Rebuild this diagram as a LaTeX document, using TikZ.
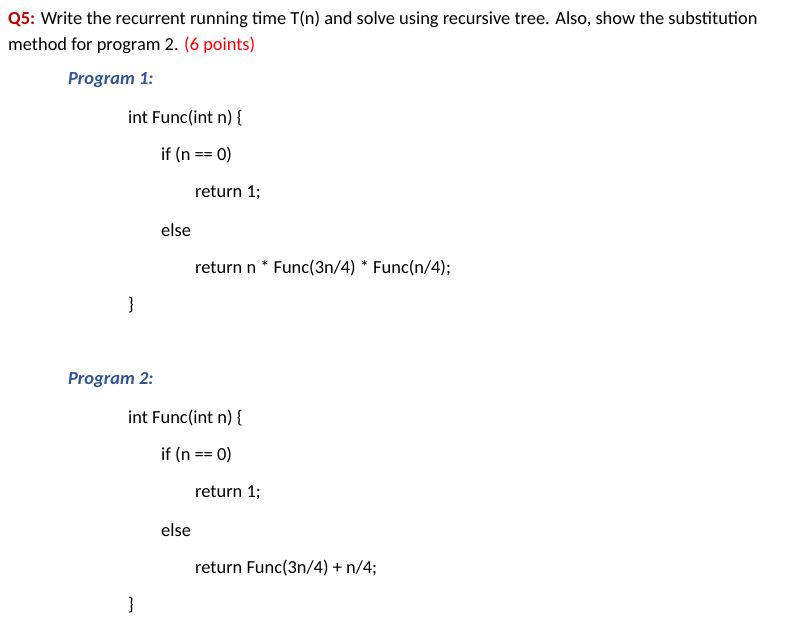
\documentclass[tikz,border=0pt]{standalone}
\usepackage{fontspec}
\setmainfont{Carlito}
\definecolor{qred}{RGB}{192,0,0}
\definecolor{pblue}{RGB}{47,84,150}
\begin{document}
\begin{tikzpicture}[x=1pt,y=-1pt,
  txt/.style={anchor=west,inner sep=0pt,font=\fontsize{18.4}{21}\selectfont},
  prog/.style={txt,text=pblue,font=\fontsize{18.4}{21}\selectfont\bfseries\itshape}]
\useasboundingbox[fill=white] (0,0) rectangle (797,629);
\node[txt] (q1) at (8,19) {\textcolor{qred}{\textbf{Q5:}} Write the recurrent running time T(n) and solve using recursive tree. Also, show the substitution};
\node[txt] (q2) at (8,45) {method for program 2. \textcolor{red}{(6 points)}};
\node[prog] (p1) at (68,80) {Program 1:};
\node[txt] (a1) at (128,118) {int Func(int n) \{};
\node[txt] (a2) at (161,155) {if (n == 0)};
\node[txt] (a3) at (195,193) {return 1;};
\node[txt] (a4) at (161,230) {else};
\node[txt] (a5) at (195,268) {return n * Func(3n/4) * Func(n/4);};
\node[txt] (a6) at (128,305) {\}};
\node[prog] (p2) at (68,380) {Program 2:};
\node[txt] (b1) at (128,418) {int Func(int n) \{};
\node[txt] (b2) at (161,455) {if (n == 0)};
\node[txt] (b3) at (195,493) {return 1;};
\node[txt] (b4) at (161,530) {else};
\node[txt] (b5) at (195,568) {return Func(3n/4) + n/4;};
\node[txt] (b6) at (128,605) {\}};
\end{tikzpicture}
\end{document}
